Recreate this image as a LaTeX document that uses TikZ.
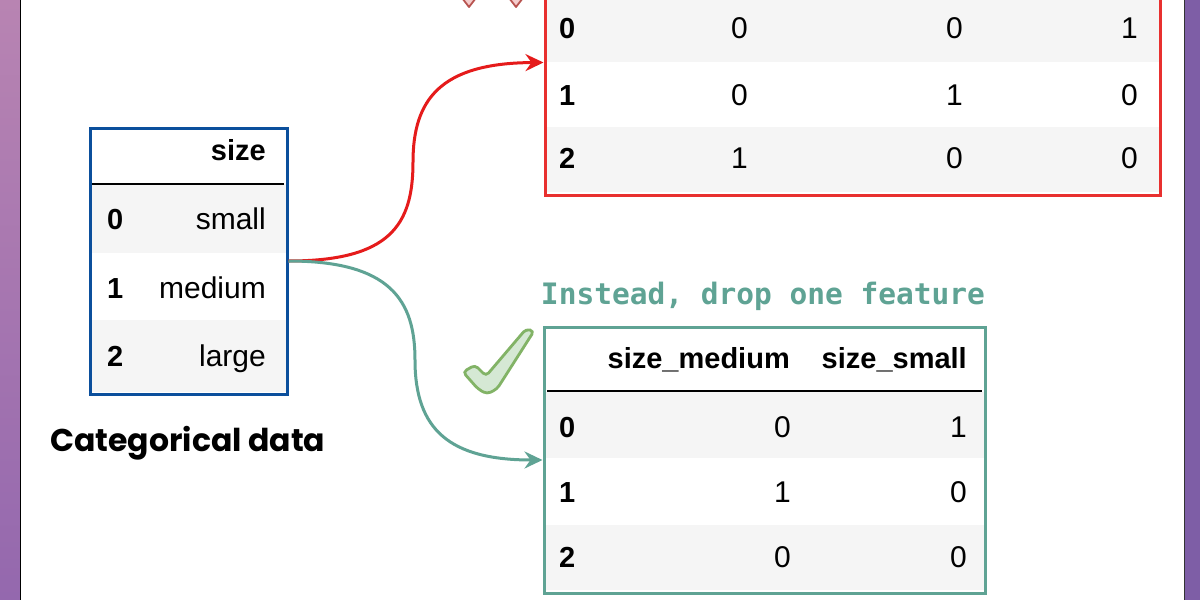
\documentclass[tikz,border=0pt]{standalone}
\usepackage{fontspec}
\setmainfont{Liberation Sans}
\newfontfamily\handfont{Poppins}
\newfontfamily\monohand{DejaVu Sans Mono}
\usetikzlibrary{arrows.meta}
\definecolor{leftTop}{HTML}{B884B2}
\definecolor{leftBot}{HTML}{9468AE}
\definecolor{rightStrip}{HTML}{7E5EA6}
\definecolor{tblue}{HTML}{0B4F9C}
\definecolor{tred}{HTML}{E8302F}
\definecolor{tteal}{HTML}{5FA394}
\definecolor{rowgrey}{HTML}{F5F5F5}
\definecolor{arrred}{HTML}{E51B1B}
\definecolor{crossfill}{HTML}{F5CCCC}
\definecolor{crossdraw}{HTML}{B85450}
\definecolor{checkfill}{HTML}{D5E8D4}
\definecolor{checkdraw}{HTML}{82B366}
\begin{document}
\begin{tikzpicture}[x=1pt,y=-1pt,
  cell/.style={font=\fontsize{30}{32}\selectfont, inner sep=0pt, text height=21pt, text depth=0pt},
  hd/.style={cell, font=\fontsize{29}{32}\selectfont\bfseries},
  frame/.style={line width=3pt, inner sep=0pt},
  hline/.style={black, line width=2pt},
  conn/.style={line width=3pt, -{Stealth[length=18pt,width=17pt,inset=6pt]}}
]
\useasboundingbox (0,0) rectangle (1200,600);
% background
\fill[white] (20,0) rectangle (1184,600);
\shade[top color=leftTop, bottom color=leftBot] (0,0) rectangle (20,600);
\fill[rightStrip] (1185,0) rectangle (1200,600);
\draw[black, line width=1.5pt] (20.5,0) -- (20.5,600);
\draw[black!80, line width=1pt] (1184.5,0) -- (1184.5,600);

% ---------- blue table ----------
\fill[rowgrey] (90,184) rectangle (287,253);
\fill[rowgrey] (90,320) rectangle (287,392);
\node[frame, draw=tblue, minimum width=197pt, minimum height=266pt] (cat) at (188.5,261) {};
\draw[hline] (92,184) -- (284,184);
\node[hd, anchor=east] (catH) at (266,150) {size};
\node[hd, anchor=west] (catI0) at (107,219) {0};
\node[cell, anchor=east] (catV0) at (266,219) {small};
\node[hd, anchor=west] (catI1) at (107,288) {1};
\node[cell, anchor=east] (catV1) at (266,288) {medium};
\node[hd, anchor=west] (catI2) at (107,356) {2};
\node[cell, anchor=east] (catV2) at (266,356) {large};
\node[anchor=west, inner sep=0pt, font=\handfont\bfseries\fontsize{31.5}{34}\selectfont] (catLabel) at (50,443) {Categorical data};

% ---------- red table ----------
\fill[rowgrey] (545,-2) rectangle (1160,62);
\fill[rowgrey] (545,127) rectangle (1160,192);
\node[frame, draw=tred, minimum width=615pt, minimum height=265pt] (red) at (852.5,62.5) {};
\node[hd, anchor=west] (redI0) at (559,28) {0};
\node[cell, anchor=east] (redA0) at (748,28) {0};
\node[cell, anchor=east] (redB0) at (963,28) {0};
\node[cell, anchor=east] (redC0) at (1138,28) {1};
\node[hd, anchor=west] (redI1) at (559,95) {1};
\node[cell, anchor=east] (redA1) at (748,95) {0};
\node[cell, anchor=east] (redB1) at (963,95) {1};
\node[cell, anchor=east] (redC1) at (1138,95) {0};
\node[hd, anchor=west] (redI2) at (559,158) {2};
\node[cell, anchor=east] (redA2) at (748,158) {1};
\node[cell, anchor=east] (redB2) at (963,158) {0};
\node[cell, anchor=east] (redC2) at (1138,158) {0};

% cross marks (cut off at top)
\draw[crossdraw, fill=crossfill, line width=1.8pt, line join=round] (459,-6) -- (469,7) -- (479,-6);
\draw[crossdraw, fill=crossfill, line width=1.8pt, line join=round] (506,-6) -- (516,7) -- (526,-6);

% ---------- teal table ----------
\node[anchor=center, inner sep=0pt, text=tteal, font=\monohand\bfseries\fontsize{29.5}{31}\selectfont] (tealTitle) at (763,296) {Instead, drop one feature};
\fill[rowgrey] (545,392) rectangle (985,458);
\fill[rowgrey] (545,525) rectangle (985,590);
\node[frame, draw=tteal, minimum width=441pt, minimum height=266pt] (teal) at (764.5,460) {};
\draw[hline] (547,391) -- (982,391);
\node[hd, anchor=east] (tealH1) at (790,358) {size\_medium};
\node[hd, anchor=east] (tealH2) at (967,358) {size\_small};
\node[hd, anchor=west] (tealI0) at (559,427) {0};
\node[cell, anchor=east] (tealA0) at (791,427) {0};
\node[cell, anchor=east] (tealB0) at (967,427) {1};
\node[hd, anchor=west] (tealI1) at (559,492) {1};
\node[cell, anchor=east] (tealA1) at (791,492) {1};
\node[cell, anchor=east] (tealB1) at (967,492) {0};
\node[hd, anchor=west] (tealI2) at (559,557) {2};
\node[cell, anchor=east] (tealA2) at (791,557) {0};
\node[cell, anchor=east] (tealB2) at (967,557) {0};

% check mark
\draw[checkdraw, fill=checkfill, line width=2.8pt, rounded corners=4pt]
  (463,372) -- (475,365) -- (486,376) -- (526,329) -- (534,331) -- (497,389) -- (487,394) -- (478,389) -- cycle;

% ---------- connectors ----------
\draw[conn, arrred] (cat.east) .. controls (390,261) and (413,225) .. (413,162)
  .. controls (413,100) and (440,63) .. (red.west);
\draw[conn, tteal] (cat.east) .. controls (390,261) and (415,300) .. (415,360)
  .. controls (415,430) and (450,460) .. (teal.west);
\end{tikzpicture}
\end{document}
